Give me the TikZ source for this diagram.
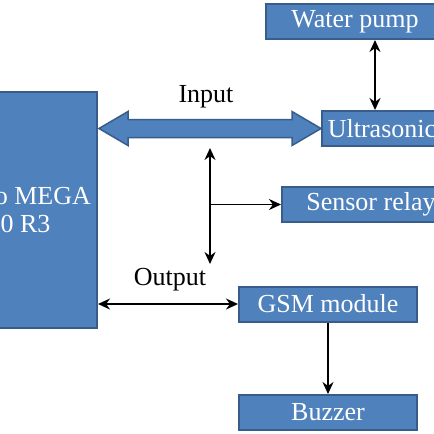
\documentclass[tikz,border=0pt]{standalone}
\usepackage{fontspec}
\setmainfont{Liberation Serif}
\usetikzlibrary{calc,arrows.meta}
\definecolor{boxblue}{RGB}{79,129,189}
\definecolor{boxedge}{RGB}{56,93,138}
\tikzset{
  block/.style={draw=boxedge,fill=boxblue,line width=2pt,text=white,inner sep=0pt,
    minimum width=178pt,minimum height=35pt,font=\fontsize{26}{28}\selectfont},
  tag/.style={inner sep=0pt,font=\fontsize{26}{28}\selectfont},
  link/.style={line width=1.6pt,{Stealth[length=12pt,width=11pt]}-{Stealth[length=12pt,width=11pt]}},
  feed/.style={line width=1.6pt,-{Stealth[length=12pt,width=11pt]}}
}
\begin{document}
\begin{tikzpicture}[x=1pt,y=-1pt]
  \useasboundingbox (0,0) rectangle (434,434);
  \clip (0,0) rectangle (434,434);

    \node[block,minimum width=182pt,minimum height=236pt,align=center] (mega) at (6,210) {Arduino MEGA\\2560 R3};
    \node[block] (pump)   at (355,21.5)  {Water pump};
    \node[block,minimum width=120pt] (ultra) at (382,128.5) {Ultrasonic};
    \node[block] (relay)  at (371,204.5) {Sensor relay};
    \node[block] (gsm)    at (328,304)   {GSM module};
    \node[block] (buzzer) at (328,412.5) {Buzzer};

    \node[tag] (input)  at (206,97)  {Input};
    \node[tag] (output) at (170,280) {Output};

    % Input bus
    \coordinate (inL) at ([xshift=1pt]mega.east |- ultra.west);
    \coordinate (inR) at (ultra.west);
    \filldraw[draw=boxedge,fill=boxblue,line width=1.5pt,line join=miter]
      (inL) -- ($(inL)+(29,-17)$) -- ($(inL)+(29,-9)$) --
      ($(inR)+(-29,-9)$) -- ($(inR)+(-29,-17)$) -- (inR) --
      ($(inR)+(-29,17)$) -- ($(inR)+(-29,9)$) --
      ($(inL)+(29,9)$) -- ($(inL)+(29,17)$) -- cycle;

    \coordinate (bustop) at (210,148);
    \coordinate (busbot) at (210,264);
    \draw[link] (bustop) -- (busbot);
    \draw[feed] (bustop |- relay.west) -- (relay.west);

    \draw[link] (mega.east |- gsm.west) -- (gsm.west);
    \draw[link] ([xshift=-7pt]pump.south -| ultra.north) -- ([xshift=-7pt]ultra.north);
    \draw[feed] (gsm.south) -- (buzzer.north);

\end{tikzpicture}
\end{document}
